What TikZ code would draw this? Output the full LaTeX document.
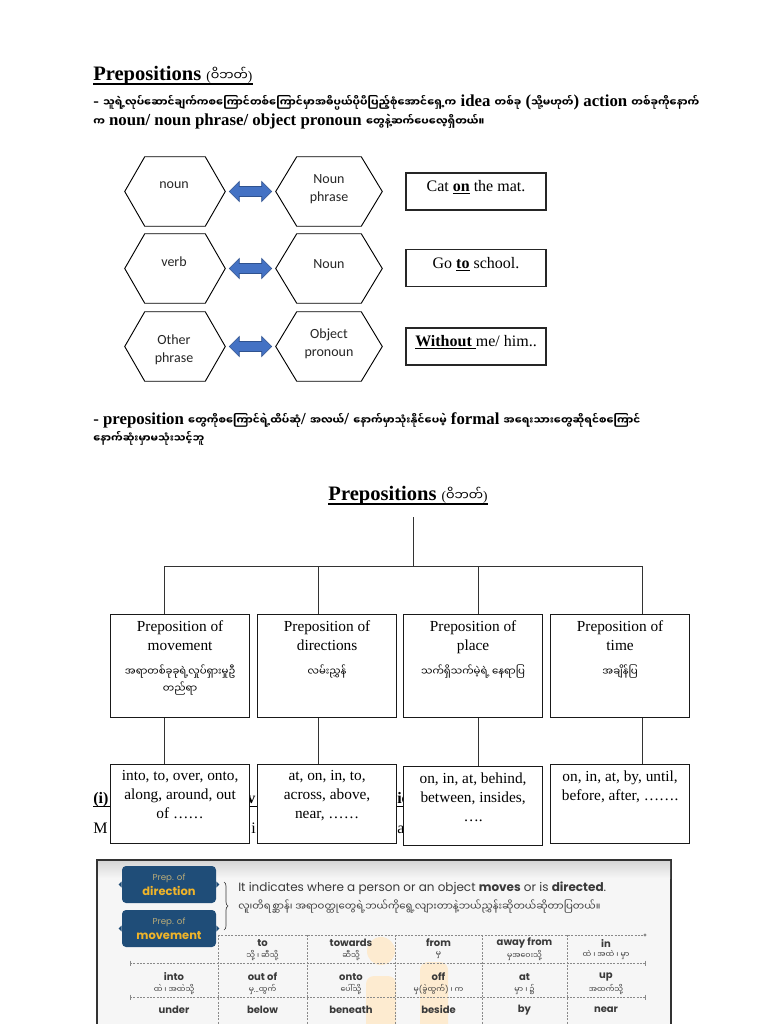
\documentclass[tikz,border=0pt]{standalone}
\usepackage{fontspec}
\setmainfont{Liberation Serif}
\newfontfamily\mmfont[Script=Myanmar]{Noto Sans Myanmar UI}
\newfontfamily\calfont{Carlito}
\newfontfamily\popfont{Poppins}
\usetikzlibrary{calc,decorations.pathreplacing}
\definecolor{arrowblue}{HTML}{4472C4}
\definecolor{arrowdark}{HTML}{2F528F}
\definecolor{badgeblue}{HTML}{1F4D78}
\definecolor{gold}{HTML}{F0B429}
\definecolor{palegold}{HTML}{B9AB78}
\definecolor{txtdark}{HTML}{3A3A3A}
\definecolor{dashgray}{HTML}{8A8A8A}
\definecolor{peach}{HTML}{FDEBD0}
\definecolor{framebg}{HTML}{F6F6F6}
\newcommand{\mmb}[1]{{\mmfont\fontsize{7.85}{11}\selectfont #1}}
\newcommand{\hexat}[2]{%
  \draw[hexline] (#1.west) -- ($(#1.north west)+(#2,0)$) -- ($(#1.north east)-(#2,0)$) -- (#1.east) -- ($(#1.south east)-(#2,0)$) -- ($(#1.south west)+(#2,0)$) -- cycle;}
\newcommand{\dblarrow}[2]{%
  \filldraw[fill=arrowblue, draw=arrowdark, line width=0.5pt]
  let \p1=($(#1.east)+(4,0)$), \p2=($(#2.west)+(-4,0)$) in
  (\x1,\y1) -- (\x1+7.5pt,\y1+7.5pt) -- (\x1+7.5pt,\y1+3.75pt) -- (\x2-7.5pt,\y1+3.75pt) -- (\x2-7.5pt,\y1+7.5pt) -- (\x2,\y1) -- (\x2-7.5pt,\y1-7.5pt) -- (\x2-7.5pt,\y1-3.75pt) -- (\x1+7.5pt,\y1-3.75pt) -- (\x1+7.5pt,\y1-7.5pt) -- cycle;}
\newcommand{\utext}[2]{\parbox[t][77.25pt][t]{104.25pt}{\centering\fontsize{11.5}{14.25}\selectfont\vspace*{4.5pt}#1\par\vspace{6pt}{\mmfont\fontsize{7.6}{12.75}\selectfont #2\par}}}
\newcommand{\ltext}[1]{\parbox[t][59.25pt][t]{104.25pt}{\centering\fontsize{11.5}{14.25}\selectfont\vspace*{4.5pt}#1\par}}
\begin{document}
\begin{tikzpicture}[x=0.75pt,y=-0.75pt,
  tx/.style={inner sep=0pt, anchor=base west},
  hexbox/.style={minimum width=75pt, minimum height=51.75pt, inner sep=0pt},
  hexboxw/.style={minimum width=79.5pt, minimum height=51.75pt, inner sep=0pt},
  hexline/.style={draw=black, line width=0.7pt},
  hextx/.style={inner sep=0pt, font=\calfont\fontsize{10.5}{13.5}\selectfont, align=center, text=black!85},
  exbox/.style={draw=black!85, line width=1pt, minimum width=105pt, minimum height=27.75pt, inner sep=0pt, text height=8pt, text depth=8pt, font=\fontsize{12}{14}\selectfont},
  ubox/.style={draw=black!90, line width=0.9pt, inner sep=0pt, anchor=north west, fill=white},
  conn/.style={draw=black!80, line width=0.7pt},
  badge/.style={fill=badgeblue, rounded corners=3pt, minimum width=70.5pt, minimum height=27.75pt, inner sep=0pt, align=center},
  dsh/.style={draw=dashgray, line width=0.4pt, dash pattern=on 1.5pt off 1pt},
  en/.style={inner sep=0pt, font=\popfont\bfseries\fontsize{7.5}{8}\selectfont, text=txtdark},
  mmt/.style={inner sep=0pt, font=\mmfont\fontsize{5.8}{7}\selectfont, text=txtdark}]
\useasboundingbox (0,0) rectangle (768,1024);
\clip (0,0) rectangle (768,1024);
\fill[white] (0,0) rectangle (768,1024);

% ---------- heading and paragraph 1 ----------
\node[tx] (t1) at (93,80) {\fontsize{15.4}{18}\selectfont\bfseries Prepositions {\fontsize{10}{10}\selectfont\mdseries ({\mmfont\fontsize{9.5}{10}\selectfont ဝိဘတ်})}};
\draw[line width=0.8pt] ($(t1.base west)+(0,4)$) -- ($(t1.base east)+(0,4)$);
\node[tx] (p1a) at (93,107) {\fontsize{12.6}{13}\selectfont\bfseries - \mmb{သူရဲ့လုပ်ဆောင်ချက်ကစကြောင်တစ်ကြောင်မှာအဓိပ္ပယ်ပိုပီပြည့်စုံအောင်ရှေ့က} idea \mmb{တစ်ခု} (\mmb{သို့မဟုတ်}) action \mmb{တစ်ခုကိုနောက်}};
\node[tx] (p1b) at (93,125) {\fontsize{12.6}{13}\selectfont\bfseries \mmb{က} noun/ noun phrase/ object pronoun \mmb{တွေနဲ့ဆက်ပေလေ့ရှိတယ်။}};

% ---------- hexagons ----------
\node[hexbox] (h1) at (175,191.5) {};
\node[hexbox] (h2) at (175,268.5) {};
\node[hexbox] (h3) at (175,346.5) {};
\node[hexboxw] (r1) at (329,191.5) {};
\node[hexboxw] (r2) at (329,268.5) {};
\node[hexboxw] (r3) at (329,346.5) {};
\hexat{h1}{20}\hexat{h2}{20}\hexat{h3}{20}
\hexat{r1}{21}\hexat{r2}{21}\hexat{r3}{21}
\node[hextx] (h1t) at (174,185) {noun};
\node[hextx] (h2t) at (174,262) {verb};
\node[hextx] (h3t) at (174,349.5) {Other\\phrase};
\node[hextx] (r1t) at (329,189) {Noun\\phrase};
\node[hextx] (r2t) at (329,264) {Noun};
\node[hextx] (r3t) at (329,344) {Object\\pronoun};
\dblarrow{h1}{r1}
\dblarrow{h2}{r2}
\dblarrow{h3}{r3}

% ---------- example boxes ----------
\node[exbox] (e1) at (476,191.5) {Cat \underline{\textbf{on}} the mat.};
\node[exbox] (e2) at (476,268) {Go \underline{\textbf{to}} school.};
\node[exbox] (e3) at (476,346.5) {\underline{\textbf{Without}\ }me/ him..};

% ---------- paragraph 2 ----------
\node[tx] (p2a) at (93,424) {\fontsize{12.6}{13}\selectfont\bfseries - preposition \mmb{တွေကိုစကြောင်ရဲ့ထိပ်ဆုံ}/ \mmb{အလယ်}/ \mmb{နောက်မှာသုံးနိုင်ပေမဲ့} formal \mmb{အရေးသားတွေဆိုရင်စကြောင်}};
\node[tx] (p2b) at (93,442) {\fontsize{12.6}{13}\selectfont\bfseries \mmb{နောက်ဆုံးမှာမသုံးသင့်ဘူ}};

% ---------- tree ----------
\node[inner sep=0pt, anchor=base] (t2) at (408,500) {\fontsize{15.4}{18}\selectfont\bfseries Prepositions {\fontsize{10}{10}\selectfont\mdseries ({\mmfont\fontsize{9.5}{10}\selectfont ဝိဘတ်})}};
\draw[line width=0.8pt] ($(t2.base west)+(0,4)$) -- ($(t2.base east)+(0,4)$);

\node[ubox] (b1) at (110,614) {\utext{Preposition of\\movement}{အရာတစ်ခုခုရဲ့လှုပ်ရှားမှုဦ\\တည်ရာ}};
\node[ubox] (b2) at (257,614) {\utext{Preposition of\\directions}{လမ်းညွှန်}};
\node[ubox] (b3) at (403,614) {\utext{Preposition of\\place}{သက်ရှိသက်မဲ့ရဲ့ နေရာပြ}};
\node[ubox] (b4) at (550,614) {\utext{Preposition of\\time}{အချိန်ပြ}};

\coordinate (tt) at (413,517);
\coordinate (bus) at (413,566);
\draw[conn] (tt) -- (bus);
\draw[conn] ($(b1.north west)+(54,0)$) |- (bus);
\draw[conn] ($(b2.north west)+(61,0)$) |- (bus);
\draw[conn] ($(b3.north west)+(75,0)$) |- (bus);
\draw[conn] ($(b4.north west)+(92,0)$) |- (bus);

% hidden heading behind lower boxes
\node[tx] (hid1) at (93,803) {\fontsize{12}{14}\selectfont\bfseries (i)};
\draw[line width=0.6pt] ($(hid1.base west)+(0,3)$) -- ++(17,0);
\node[tx] (hid2) at (93,833) {\fontsize{12}{14}\selectfont M};
\begin{scope}
\clip (249,780) rectangle (257,845);
\node[tx] (hid3) at (247,803) {\fontsize{12}{14}\selectfont\bfseries v};
\draw[line width=0.6pt] (249,806) -- (257,806);
\node[tx] (hid4) at (251,833) {\fontsize{12}{14}\selectfont i};
\end{scope}
\begin{scope}
\clip (396,780) rectangle (403,845);
\node[tx] (hid5) at (397,803) {\fontsize{12}{14}\selectfont\bfseries ic};
\draw[line width=0.6pt] (396,806) -- (403,806);
\node[tx] (hid6) at (397,833) {\fontsize{12}{14}\selectfont a};
\end{scope}

\node[ubox] (c1) at (110,764) {\ltext{into, to, over, onto,\\along, around, out\\of \dots\dots}};
\node[ubox] (c2) at (257,764) {\ltext{at, on, in, to,\\across, above,\\near, \dots\dots}};
\node[ubox] (c3) at (403,766) {\ltext{on, in, at, behind,\\between, insides,\\\dots.}};
\node[ubox] (c4) at (550,764) {\ltext{on, in, at, by, until,\\before, after, \dots\dots.}};
\draw[conn] ($(b1.south west)+(54,0)$) -- ($(c1.north west)+(54,0)$);
\draw[conn] ($(b2.south west)+(61,0)$) -- ($(c2.north west)+(61,0)$);
\draw[conn] ($(b3.south west)+(75,0)$) -- ($(c3.north west)+(75,0)$);
\draw[conn] ($(b4.south west)+(92,0)$) -- ($(c4.north west)+(92,0)$);

% ---------- bottom screenshot ----------
\filldraw[fill=framebg, draw=black!80, line width=1.2pt] (97,860) rectangle (671,1040);
\shade[top color=black!16, bottom color=framebg] (98,861) rectangle (670,878);
\fill[peach] (381,951) circle (14);
\fill[peach, rounded corners=6pt] (366,976) rectangle (396,1040);
\fill[peach, rounded corners=6pt] (420,962) rectangle (448,1040);

\node[badge] (bd1) at (169,884.5) {{\popfont\fontsize{6.5}{8}\selectfont\color{palegold}Prep. of}\\[-1pt]{\popfont\bfseries\fontsize{8.6}{10}\selectfont\color{gold}direction}};
\node[badge] (bd2) at (169,928.5) {{\popfont\fontsize{6.5}{8}\selectfont\color{palegold}Prep. of}\\[-1pt]{\popfont\bfseries\fontsize{8.6}{10}\selectfont\color{gold}movement}};
\foreach \b in {bd1,bd2}{
  \fill[badgeblue] ($(\b.west)+(0,-3)$) -- ($(\b.west)+(-3,0)$) -- ($(\b.west)+(0,3)$) -- cycle;
  \fill[badgeblue] ($(\b.east)+(0,-3)$) -- ($(\b.east)+(3,0)$) -- ($(\b.east)+(0,3)$) -- cycle;
}
\coordinate (brtop) at (224,882);
\coordinate (brbot) at (224,930);
\draw[txtdark, line width=0.5pt, decorate, decoration={brace, amplitude=3pt}] (brtop) -- (brbot);

\node[tx] (s1) at (238,891) {\popfont\fontsize{9}{10}\selectfont\color{txtdark}It indicates where a person or an object \textbf{moves} or is \textbf{directed}.};
\node[tx] (s2) at (238,910) {\mmfont\fontsize{7.6}{9}\selectfont\color{txtdark}လူ၊တိရစ္ဆာန်၊ အရာဝတ္ထုတွေရဲ့ဘယ်ကိုရွေ့လျားတာနဲ့ဘယ်ညွှန်းဆိုတယ်ဆိုတာပြတယ်။};

% dashed table
\draw[dsh] (218,935) -- (645,935);
\fill[dashgray] (645,935) circle (1.6);
\draw[dsh] (130,963) -- (645,963);
\draw[dsh] (130,997) -- (645,997);
\foreach \yy in {963,997}{
  \draw[dashgray, line width=0.4pt] (130,\yy-2.5) -- (130,\yy+2.5);
  \draw[dashgray, line width=0.4pt] (645,\yy-2.5) -- (645,\yy+2.5);
}
\foreach \xx in {218,307,395,482,567}{
  \draw[dsh] (\xx,935) -- (\xx,1030);
}
% row 1
\node[en] (w12) at (262.5,943) {to};
\node[en] (w13) at (351,943) {towards};
\node[en] (w14) at (438.5,943) {from};
\node[en] (w15) at (524.5,943) {away from};
\node[en] (w16) at (606,943) {in};
\node[mmt] (m12) at (262.5,955) {သို့ ၊ ဆီသို့};
\node[mmt] (m13) at (351,955) {ဆီသို့};
\node[mmt] (m14) at (438.5,955) {မှ};
\node[mmt] (m15) at (524.5,955) {မှအဝေးသို့};
\node[mmt] (m16) at (606,955) {ထဲ ၊ အထဲ ၊ မှာ};
% row 2
\node[en] (w21) at (174,977) {into};
\node[en] (w22) at (262.5,977) {out of};
\node[en] (w23) at (351,977) {onto};
\node[en] (w24) at (438.5,977) {off};
\node[en] (w25) at (524.5,977) {at};
\node[en] (w26) at (606,977) {up};
\node[mmt] (m21) at (174,989) {ထဲ ၊ အထဲသို့};
\node[mmt] (m22) at (262.5,989) {မှ{\popfont\mdseries ...}ထွက်};
\node[mmt] (m23) at (351,989) {ပေါ်သို့};
\node[mmt] (m24) at (438.5,989) {မှ{\popfont\mdseries (}ခွဲထွက်{\popfont\mdseries )} ၊ က};
\node[mmt] (m25) at (524.5,989) {မှာ ၊ ၌};
\node[mmt] (m26) at (606,989) {အထက်သို့};
% row 3
\node[en] (w31) at (174,1010) {under};
\node[en] (w32) at (262.5,1010) {below};
\node[en] (w33) at (351,1010) {beneath};
\node[en] (w34) at (438.5,1010) {beside};
\node[en] (w35) at (524.5,1010) {by};
\node[en] (w36) at (606,1010) {near};
\end{tikzpicture}
\end{document}
